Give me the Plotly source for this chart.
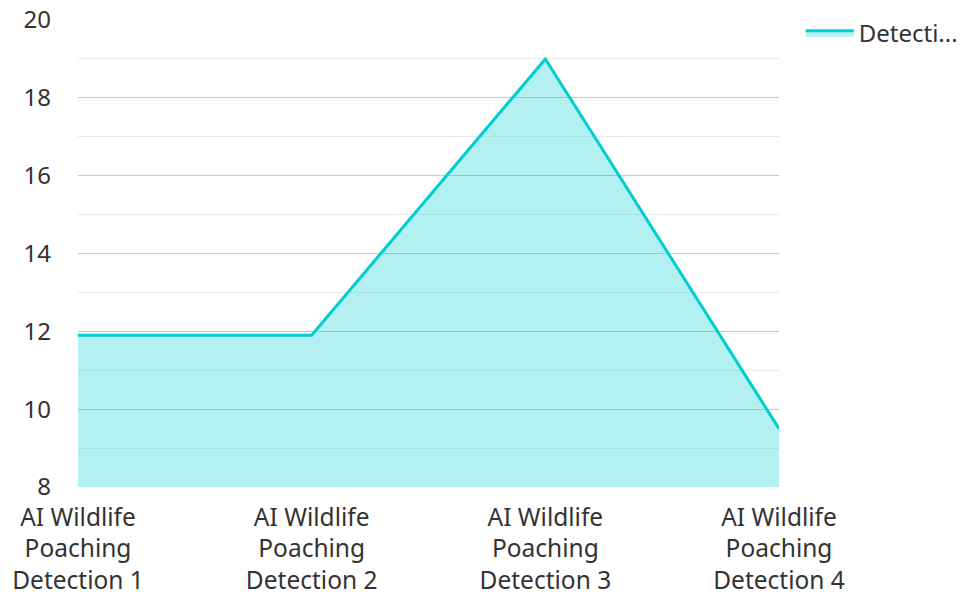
import plotly.graph_objects as go

categories = [
    "AI Wildlife<br>Poaching<br>Detection 1",
    "AI Wildlife<br>Poaching<br>Detection 2",
    "AI Wildlife<br>Poaching<br>Detection 3",
    "AI Wildlife<br>Poaching<br>Detection 4",
]
values = [11.9, 11.9, 19.0, 9.5]
series_name = "Detecti..."
y_ticks = [8, 10, 12, 14, 16, 18, 20]

line_color = "#00CED1"
fill_color = "rgba(0,206,209,0.30)"
font_family = "Noto Sans, Open Sans, sans-serif"
text_color = "#333333"
font_size = 24.5

x_pos = list(range(len(categories)))

fig = go.Figure()
fig.add_trace(go.Scatter(
    x=x_pos,
    y=values,
    name=series_name,
    mode="lines",
    line=dict(color=line_color, width=3),
    fill="tozeroy",
    fillcolor=fill_color,
    showlegend=True,
))

fig.update_layout(
    width=966,
    height=592,
    margin=dict(l=78, r=187, t=20, b=105, autoexpand=False),
    paper_bgcolor="white",
    plot_bgcolor="white",
    font=dict(family=font_family, size=font_size, color=text_color),
    showlegend=True,
    legend=dict(
        x=1.031, y=1.02, xanchor="left", yanchor="top",
        font=dict(size=font_size - 0.5, color=text_color),
        bgcolor="rgba(0,0,0,0)",
        itemwidth=48,
    ),
    xaxis=dict(
        range=[0, len(categories) - 1],
        tickmode="array",
        tickvals=x_pos,
        ticktext=categories,
        showgrid=False,
        zeroline=False,
        showline=False,
        ticks="",
        automargin=False,
        ticklabelstandoff=13,
        tickfont=dict(size=font_size, color=text_color),
    ),
    yaxis=dict(
        range=[8, 20],
        tickmode="array",
        tickvals=y_ticks,
        showgrid=True,
        gridcolor="#c8c8c8",
        gridwidth=1,
        zeroline=False,
        showline=False,
        ticks="",
        automargin=False,
        ticklabelstandoff=26,
        tickfont=dict(size=font_size - 0.5, color=text_color),
        minor=dict(dtick=1, showgrid=True, gridcolor="#e8e8e8", gridwidth=1),
        layer="below traces",
    ),
)

fig.write_html("out.html")
